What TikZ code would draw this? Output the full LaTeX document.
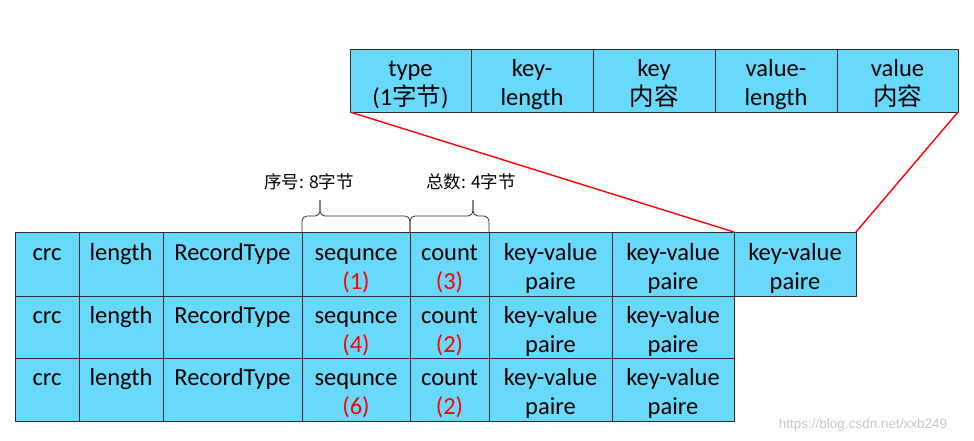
\documentclass[tikz,border=0pt]{standalone}
\usepackage{fontspec}
\setmainfont{Carlito}
\newfontfamily\cjk{Noto Sans CJK SC}
\newfontfamily\urlfont{Liberation Sans}
\usetikzlibrary{positioning}

\definecolor{cellblue}{RGB}{104,217,250}
\definecolor{cellline}{RGB}{45,45,45}

% struts for the two text lines of a cell
\newcommand{\lup}{\rule{0pt}{27pt}}
\newcommand{\ldn}{\rule[-6pt]{0pt}{6pt}}
\newcommand{\rn}[1]{\textcolor{red}{(#1)}}

\tikzset{
  cell/.style={draw=cellline, line width=0.8pt, fill=cellblue, anchor=north west,
    inner sep=0pt, outer sep=0pt, align=center,
    font=\fontsize{24.5}{29}\selectfont, minimum height=63pt},
  link/.style={red, line width=1.4pt},
  curly/.style={draw=cellline, line width=0.8pt, rounded corners=5pt},
  note/.style={font=\cjk\fontsize{17.5}{20}\selectfont, inner sep=0pt}
}

\begin{document}
\begin{tikzpicture}[x=1pt,y=-1pt]
\useasboundingbox (0,0) rectangle (974,441);

% Key-value pair in detail
\node[cell, minimum width=121pt] (ktype) at (350,49) {\lup type\\\ldn(1{\cjk 字节})};
\node[cell, minimum width=122pt] (klen) at (471,49) {\lup key-\\\ldn length};
\node[cell, minimum width=122pt] (kbody) at (593,49) {\lup key\\\ldn{\cjk 内容}};
\node[cell, minimum width=122pt] (vlen) at (715,49) {\lup value-\\\ldn length};
\node[cell, minimum width=121pt] (vbody) at (837,49) {\lup value\\\ldn{\cjk 内容}};

% Records
\foreach \r/\y/\h/\s/\c in {1/232/64/1/3, 2/296/62/4/2, 3/358/63/6/2}{
  \node[cell, minimum width=64pt, minimum height=\h pt] (crc\r) at (15,\y) {\lup crc\\\ldn};
  \node[cell, minimum width=84pt, minimum height=\h pt] (len\r) at (79,\y) {\lup length\\\ldn};
  \node[cell, minimum width=139pt, minimum height=\h pt] (rtype\r) at (163,\y) {\lup RecordType\\\ldn};
  \node[cell, minimum width=108pt, minimum height=\h pt] (seq\r) at (302,\y) {\lup sequnce\\\ldn\rn{\s}};
  \node[cell, minimum width=79pt, minimum height=\h pt] (cnt\r) at (410,\y) {\lup count\\\ldn\rn{\c}};
  \node[cell, minimum width=123pt, minimum height=\h pt] (kva\r) at (489,\y) {\lup key-value\\\ldn paire};
  \node[cell, minimum width=122pt, minimum height=\h pt] (kvb\r) at (612,\y) {\lup key-value\\\ldn paire};
}
\node[cell, minimum width=122pt, minimum height=64pt] (kvc1) at (734,232) {\lup key-value\\\ldn paire};

% Zoom lines
\draw[link] (ktype.south west) -- (kvc1.north west);
\draw[link] (vbody.south east) -- (kvc1.north east);

% Braces
\draw[curly] (seq1.north west) |- (320,216) -- (320,200);
\draw[curly] (seq1.north east) |- (320,216) -- (320,200);
\draw[curly] (cnt1.north west) |- (473,216) -- (473,200);
\draw[curly] (cnt1.north east) |- (473,216) -- (473,200);
\node[note] (seqnote) at (309,182) {序号: 8字节};
\node[note] (cntnote) at (471,182) {总数: 4字节};

\node[font=\urlfont\fontsize{13.5}{16}\selectfont, text=black!22, inner sep=0pt] (mark) at (863,425) {https://blog.csdn.net/xxb249};
\end{tikzpicture}
\end{document}
